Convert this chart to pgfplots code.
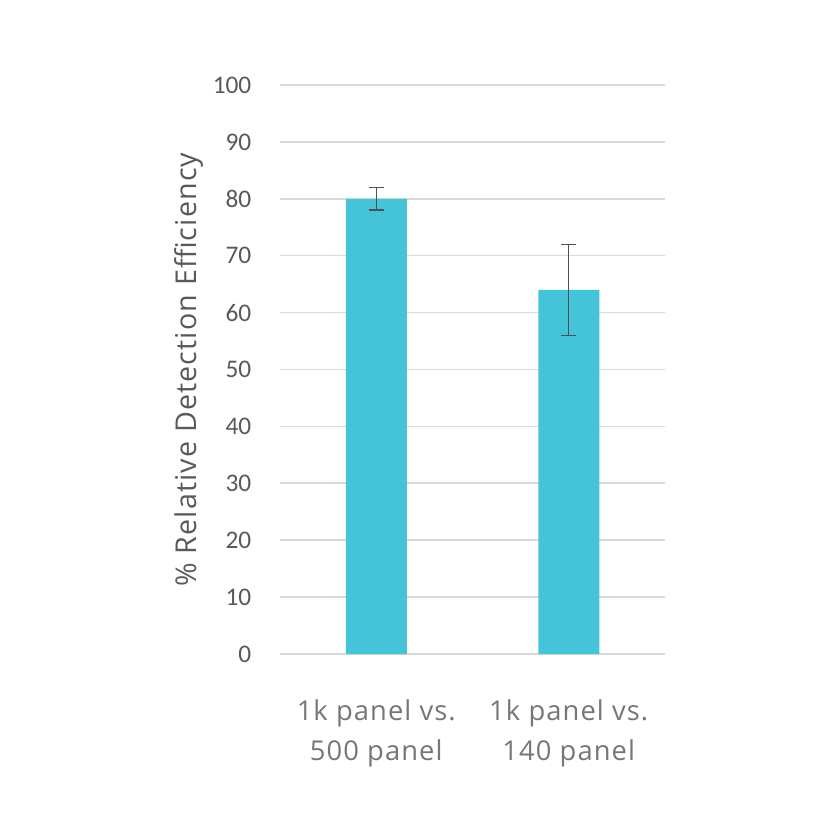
\documentclass[border=0pt]{standalone}
\usepackage{fontspec}
\setmainfont{Carlito}
\newfontfamily\labfont{Open Sans}[LetterSpace=4]
\usepackage{pgfplots}
\pgfplotsset{compat=1.18}
\definecolor{barcol}{HTML}{45C4D8}
\definecolor{gridcol}{HTML}{D9D9D9}
\definecolor{txt}{HTML}{595959}
\definecolor{xtxt}{HTML}{767676}
\definecolor{errcol}{HTML}{505050}
\begin{document}
\begin{tikzpicture}
\path (0pt,0pt) rectangle (624.75pt,624.75pt);
\begin{axis}[
    at={(210pt,134.25pt)},
    anchor=south west,
    scale only axis,
    width=288.75pt,
    height=426.75pt,
    ymin=0, ymax=100,
    ytick={0,10,...,100},
    xmin=-0.5, xmax=1.5,
    xtick={0,1},
    xticklabels={{1k panel vs.\\500 panel},{1k panel vs.\\140 panel}},
    axis line style={draw=none},
    ymajorgrids,
    grid style={draw=gridcol, line width=1.2pt},
    major tick length=0pt,
    tick style={draw=none},
    /pgf/number format/assume math mode=true,
    yticklabel style={font=\fontsize{19}{19}\selectfont, text=txt, xshift=-18pt},
    xticklabel style={font=\labfont\fontsize{20.5}{30}\selectfont, text=xtxt, align=center, yshift=-31pt},
    ylabel={\% Relative Detection Efficiency},
    ylabel style={font=\labfont\fontsize{21.5}{21.5}\selectfont, text=txt},
    ylabel shift=0pt,
]
\addplot[ybar, bar width=45.75pt, fill=barcol, draw=none,
    error bars/.cd, y dir=both, y explicit,
    error bar style={errcol, line width=1.1pt},
    error mark options={errcol, line width=1.1pt, mark size=5.5pt, rotate=90}]
    coordinates {(0,80) +- (0,2) (1,64) +- (0,8)};
\end{axis}
\end{tikzpicture}
\end{document}
